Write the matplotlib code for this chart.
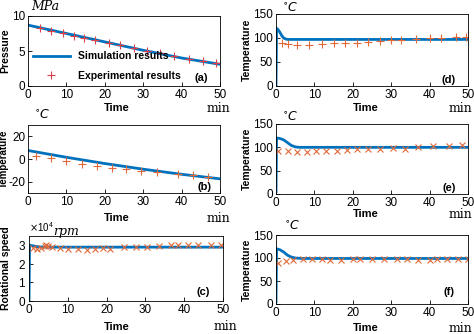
import matplotlib.pyplot as plt
import numpy as np
from matplotlib.ticker import ScalarFormatter

plt.rcParams['font.family'] = ['Liberation Sans', 'DejaVu Sans']
plt.rcParams['axes.unicode_minus'] = False

BLUE = '#0072BD'
ORANGE = '#E06A3A'
RED = '#D9404A'

# (a) pressure
a_sim_t = [0, 10, 20, 30, 40, 50]
a_sim_p = [8.7, 7.5, 6.3, 5.1, 4.0, 3.1]
a_exp_t = [3, 6, 9, 12, 14.5, 17.5, 21, 24, 27.5, 31, 34.5, 38, 42, 45.5, 49]
a_exp_p = [8.3, 7.9, 7.6, 7.2, 6.9, 6.6, 6.1, 5.8, 5.4, 5.0, 4.7, 4.3, 3.9, 3.6, 3.3]

# (b) temperature
b_sim_t = [0, 10, 20, 30, 40, 50]
b_sim_T = [7.5, 1.5, -4, -9, -13.5, -17.5]
b_exp_t = [2, 6, 10, 14, 18, 22, 25.5, 29.5, 33.5, 39, 43, 47]
b_exp_T = [3, 0.5, -2, -4.5, -6.5, -8, -9, -10.5, -11.5, -13, -14.5, -16]

# (c) rotational speed
c_sim_t = [0, 0.15, 0.3, 1, 2, 3, 5, 10, 50]
c_sim_n = [0, 30000, 30000, 29700, 29300, 29100, 29000, 29000, 29000]
c_exp_t = [1, 2, 3, 4, 4.5, 5, 6, 8, 10, 12.5, 15, 17, 19, 21, 24.5, 27.5,
           30.5, 33.5, 36.5, 38.5, 41, 43.5, 47, 49.5]
c_exp_n = [28500, 28000, 28500, 29500, 30000, 29500, 29000, 28500, 28000, 28000,
           27500, 28000, 28500, 28000, 29000, 29000, 29000, 29500, 30000, 30000,
           30000, 30000, 30000, 30000]

# (d) temperature
d_sim_t = [0, 0.15, 0.5, 1, 1.5, 2, 2.5, 3, 4, 50]
d_sim_T = [0, 120, 118, 112, 105, 100, 98, 97, 97, 97]
d_exp_t = [1.5, 3, 5.5, 8.5, 12, 15, 18, 21, 24, 27, 30, 32.5, 36.5, 40, 43, 47, 49.5]
d_exp_T = [90, 88, 85, 85, 88, 89, 90, 90, 92, 93, 95, 96, 98, 101, 101, 103, 102]

# (e) temperature
e_sim_t = [0, 0.15, 1, 2, 3, 4, 5, 6, 8, 50]
e_sim_T = [5, 120, 119, 116, 110, 104, 101, 100, 100, 100]
e_exp_t = [0.5, 3, 5.5, 8, 10.5, 13, 16, 18.5, 21, 24, 27, 30.5, 33.5, 37, 41, 45, 48.5]
e_exp_T = [92, 93, 90, 90, 93, 92, 93, 95, 97, 97, 97, 98, 97, 100, 102, 103, 104]

# (f) temperature
f_sim_t = [0, 0.15, 1, 2, 3, 4, 5, 7, 50]
f_sim_T = [5, 120, 118, 113, 106, 102, 100, 99, 99]
f_exp_t = [0.5, 2.5, 4.5, 7, 9.5, 12, 14, 17, 20, 22, 25, 28, 31.5, 34, 37, 40,
           42, 44.5, 47.5, 50]
f_exp_T = [90, 94, 96, 97, 97, 97, 96, 96, 97, 97, 98, 97, 98, 97, 96, 95, 98, 98, 98, 98]

W, H = 474, 334
fig = plt.figure(figsize=(W / 100, H / 100), dpi=100)


def px_axes(l, t, r, b):
    return fig.add_axes([l / W, 1 - b / H, (r - l) / W, (b - t) / H])


def ftext(x, y, s, **kw):
    fig.text(x / W, 1 - y / H, s, ha='center', va='center', **kw)


def style(ax, ylabel, ylim, yticks, letter, lx, ly, ylx, ylsize=7.5):
    ax.set_xlim(0, 50)
    ax.set_ylim(*ylim)
    ax.set_xticks(range(0, 51, 10))
    ax.set_yticks(yticks)
    ax.tick_params(direction='in', labelsize=8.5, length=3, width=0.6, pad=2)
    for s in ax.spines.values():
        s.set_linewidth(0.6)
    ax.set_ylabel(ylabel, fontsize=ylsize, fontweight='bold')
    ax.yaxis.set_label_coords(ylx, 0.5)
    ax.text(lx, ly, letter, transform=ax.transAxes, fontsize=8, fontweight='bold',
            ha='center', va='center')


serif = dict(family='DejaVu Serif', fontsize=9)
tfont = dict(fontsize=8, fontweight='bold')
MS_P, MS_X, MEW = 6, 4.5, 0.8

# (a)
ax = px_axes(28, 16, 220, 86)
ax.plot(a_sim_t, a_sim_p, color=BLUE, lw=2, label='Simulation results')
ax.plot(a_exp_t, a_exp_p, '+', color=RED, ms=MS_P, mew=MEW, label='Experimental results')
style(ax, 'Pressure', (0, 10), [0, 5, 10], '(a)', 0.9, 0.11, -0.09)
ax.legend(loc='lower left', frameon=False, prop=dict(size=7.5, weight='bold'),
          handlelength=3.5, labelspacing=0.9, borderaxespad=0.1)
ftext(45, 7, 'MPa', family='DejaVu Serif', fontsize=9, style='italic')
ftext(117, 108, 'Time', **tfont)
ftext(218, 108, 'min', **serif)

# (b)
ax = px_axes(28, 125, 220, 193)
ax.plot(b_sim_t, b_sim_T, color=BLUE, lw=2)
ax.plot(b_exp_t, b_exp_T, '+', color=ORANGE, ms=MS_P, mew=MEW)
style(ax, 'Temperature', (-30, 30), [-20, 0, 20], '(b)', 0.92, 0.09, -0.1, ylsize=7)
ftext(42, 115, r'$^{\circ}C$', fontsize=9)
ftext(117, 218, 'Time', **tfont)
ftext(218, 218, 'min', **serif)

# (c)
ax = px_axes(29, 236, 223, 301)
ax.plot(c_sim_t, c_sim_n, color=BLUE, lw=2)
ax.plot(c_exp_t, c_exp_n, 'x', color=ORANGE, ms=MS_X, mew=MEW)
style(ax, 'Rotational speed', (0, 35000), [0, 10000, 20000, 30000], '(c)', 0.9, 0.14, -0.092)
fmt = ScalarFormatter(useMathText=True)
fmt.set_powerlimits((0, 0))
ax.yaxis.set_major_formatter(fmt)
ax.yaxis.get_offset_text().set_fontsize(7)
ftext(66, 232, 'rpm', family='DejaVu Serif', fontsize=9, style='italic')
ftext(117, 327, 'Time', **tfont)
ftext(225, 327, 'min', **serif)

# (d)
ax = px_axes(276, 14, 468, 86)
ax.plot(d_sim_t, d_sim_T, color=BLUE, lw=2)
ax.plot(d_exp_t, d_exp_T, '+', color=ORANGE, ms=MS_P, mew=MEW)
style(ax, 'Temperature', (0, 150), [0, 50, 100, 150], '(d)', 0.9, 0.08, -0.125)
ftext(290, 8, r'$^{\circ}C$', fontsize=9)
ftext(366, 108, 'Time', **tfont)
ftext(460, 108, 'min', **serif)

# (e)
ax = px_axes(276, 124, 468, 194)
ax.plot(e_sim_t, e_sim_T, color=BLUE, lw=2)
ax.plot(e_exp_t, e_exp_T, 'x', color=ORANGE, ms=MS_X, mew=MEW)
style(ax, 'Temperature', (0, 150), [0, 50, 100, 150], '(e)', 0.9, 0.09, -0.125)
ftext(290, 117, r'$^{\circ}C$', fontsize=9)
ftext(366, 214, 'Time', **tfont)
ftext(460, 215, 'min', **serif)

# (f)
ax = px_axes(276, 235, 468, 304)
ax.plot(f_sim_t, f_sim_T, color=BLUE, lw=2)
ax.plot(f_exp_t, f_exp_T, 'x', color=ORANGE, ms=MS_X, mew=MEW)
style(ax, 'Temperature', (0, 150), [0, 50, 100, 150], '(f)', 0.9, 0.17, -0.125)
ftext(292, 226, r'$^{\circ}C$', fontsize=9)
ftext(366, 328, 'Time', **tfont)
ftext(460, 328, 'min', **serif)

fig.savefig('out.png', dpi=100)
